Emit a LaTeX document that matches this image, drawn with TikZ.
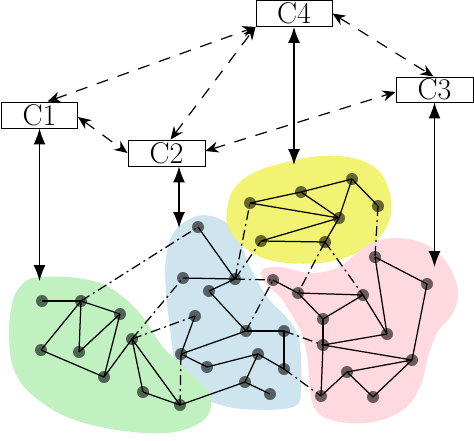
\documentclass[tikz,border=0pt]{standalone}
\usetikzlibrary{arrows.meta}
\definecolor{gfill}{RGB}{193,241,193}
\definecolor{bfill}{RGB}{206,228,238}
\definecolor{yfill}{RGB}{242,242,115}
\definecolor{pfill}{RGB}{255,217,224}
\begin{document}
\begin{tikzpicture}[x=1pt,y=-1pt,
  box/.style={draw, line width=0.9pt, minimum width=76pt, minimum height=26pt, inner sep=0pt, font=\fontsize{30}{32}\selectfont, fill=white},
  vert/.style={circle, fill=black, fill opacity=0.58, minimum size=12pt, inner sep=0pt},
  edge/.style={line width=1.25pt},
  link/.style={line width=1.25pt, dash pattern=on 10pt off 4pt on 2pt off 4pt},
  rel/.style={line width=1.2pt, dash pattern=on 12pt off 10pt, {Stealth[length=13pt,width=11pt]}-{Stealth[length=13pt,width=11pt]}},
  solidrel/.style={line width=1.2pt, {Latex[length=16pt,width=12pt]}-{Latex[length=16pt,width=12pt]}},
  blob/.style={smooth cycle, tension=0.6}
]
\useasboundingbox (0,0) rectangle (474,440);
% regions
\fill[bfill] plot[blob] coordinates {(197,216) (220,219) (237,234) (250,267) (267,297) (287,318) (299,340) (301,387) (293,407) (243,409) (207,400) (180,380) (173,353) (170,327) (166,293) (166,257) (175,231)};
\fill[gfill] plot[blob] coordinates {(13,300) (20,287) (33,278) (67,277) (100,283) (123,297) (143,317) (163,347) (187,370) (207,390) (211,407) (200,423) (167,433) (117,430) (67,417) (30,393) (13,367) (9,330)};
\fill[yfill] plot[blob] coordinates {(227,210) (233,190) (253,173) (287,162) (320,156) (353,158) (377,169) (389,190) (391,213) (383,233) (367,247) (347,257) (320,263) (287,263) (260,257) (240,243) (228,227)};
\fill[pfill] plot[blob] coordinates {(262,270) (280,267) (310,273) (337,268) (357,253) (373,242) (400,238) (427,245) (447,263) (458,290) (453,313) (437,333) (428,357) (420,387) (403,410) (373,422) (340,422) (317,412) (310,390) (308,363) (303,337) (293,317) (280,297) (265,283)};
% vertices
\node[vert] (g1) at (42,301) {};
\node[vert] (g2) at (81,301) {};
\node[vert] (g3) at (120,314) {};
\node[vert] (g4) at (41,350) {};
\node[vert] (g5) at (79,352) {};
\node[vert] (g6) at (104,377) {};
\node[vert] (g7) at (132,339) {};
\node[vert] (g8) at (143,392) {};
\node[vert] (g9) at (180,405) {};
\node[vert] (b1) at (198,227) {};
\node[vert] (b2) at (183,278) {};
\node[vert] (b3) at (235,279) {};
\node[vert] (b4) at (209,291) {};
\node[vert] (b5) at (195,316) {};
\node[vert] (b6) at (181,354) {};
\node[vert] (b7) at (246,331) {};
\node[vert] (b8) at (284,331) {};
\node[vert] (b9) at (207,367) {};
\node[vert] (b10) at (258,354) {};
\node[vert] (b11) at (284,369) {};
\node[vert] (b12) at (245,382) {};
\node[vert] (b13) at (270,394) {};
\node[vert] (y1) at (250,203) {};
\node[vert] (y2) at (301,192) {};
\node[vert] (y3) at (352,179) {};
\node[vert] (y4) at (378,206) {};
\node[vert] (y5) at (339,218) {};
\node[vert] (y6) at (261,241) {};
\node[vert] (y7) at (325,242) {};
\node[vert] (p1) at (273,280) {};
\node[vert] (p2) at (298,293) {};
\node[vert] (p3) at (363,295) {};
\node[vert] (p4) at (375,257) {};
\node[vert] (p5) at (427,284) {};
\node[vert] (p6) at (323,319) {};
\node[vert] (p7) at (387,334) {};
\node[vert] (p8) at (323,345) {};
\node[vert] (p9) at (412,360) {};
\node[vert] (p10) at (347,372) {};
\node[vert] (p11) at (321,396) {};
\node[vert] (p12) at (373,397) {};
% edges
\foreach \a/\b in {g1/g2,g2/g4,g2/g5,g2/g3,g3/g5,g3/g6,g4/g6,g6/g7,g7/g8,g7/g9,g8/g9,g9/b12,
  b1/b3,b2/b3,b3/b4,b4/b7,b5/b6,b6/b7,b6/b9,b9/b10,b7/b8,b8/b11,b10/b11,b10/b12,b12/b13,
  y1/y2,y2/y3,y1/y5,y2/y5,y3/y4,y3/y5,y5/y7,y6/y5,y6/y7,
  p1/p2,p2/p6,p2/p3,p6/p3,p3/p7,p4/p7,p4/p5,p5/p9,p6/p8,p8/p7,p8/p9,p8/p11,p11/p10,p10/p12,p12/p9,p10/p9}
  \draw[edge] (\a.center) -- (\b.center);
\foreach \a/\b in {g2/b1,g7/b2,g7/b5,g9/b6,b3/y1,b3/y6,b3/p1,b7/p1,b8/p8,b11/p11,y7/p2,y7/p3,y4/p4}
  \draw[link] (\a.center) -- (\b.center);
% boxes
\node[box] (C1) at (39.5,115) {C1};
\node[box, minimum width=77pt] (C2) at (166.5,153) {C2};
\node[box, minimum width=77pt, minimum height=25pt] (C3) at (434.5,89.5) {C3};
\node[box] (C4) at (294,13.5) {C4};
% targets of arrows
\coordinate (t1) at (39.5,281);
\coordinate (t2) at (179,228);
\coordinate (t3) at (434.5,267);
\coordinate (t4) at (294,165);
\draw[rel] ([xshift=8pt]C1.north) -- (C4.south west);
\draw[rel] ([xshift=4pt]C2.north) -- (C4.south west);
\draw[rel] ([yshift=-2pt]C1.east) -- (C2.west);
\draw[rel] ([yshift=2pt]C2.east) -- ([yshift=-2.5pt]C3.west);
\draw[rel] (C4.east) -- ([xshift=-1pt]C3.north);
\draw[solidrel] (C1.south) -- (t1);
\draw[solidrel] ([xshift=12.5pt]C2.south) -- (t2);
\draw[solidrel] (C4.south) -- (t4);
\draw[solidrel] (C3.south) -- (t3);
\end{tikzpicture}
\end{document}
